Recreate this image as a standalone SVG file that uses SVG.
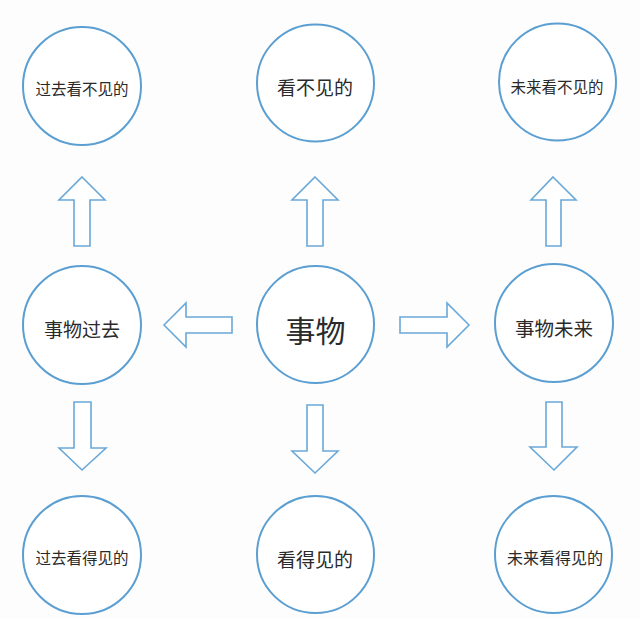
<svg xmlns="http://www.w3.org/2000/svg" width="640" height="619" viewBox="0 0 640 619">
<style>
.c{fill:#ffffff;stroke:#5b9fd2;stroke-width:2}
.a{fill:#ffffff;stroke:#6aa8d8;stroke-width:1.6;stroke-linejoin:miter}
.t{font-family:"Noto Sans CJK SC","Noto Sans",sans-serif;fill:#2a2a2a;text-anchor:middle;dominant-baseline:central}
</style>
<rect width="640" height="619" fill="#fdfdfd"/>
<g id="connectors">
<polygon class="a" points="82,177 105,200 90,200 90,246 74,246 74,200 59,200"/>
<polygon class="a" points="315,177 338,200 323,200 323,246 307,246 307,200 292,200"/>
<polygon class="a" points="553,177 576,200 561,200 561,246 546,246 546,200 531,200"/>
<polygon class="a" points="164,325 186,303 186,317 232,317 232,333 186,333 186,347"/>
<polygon class="a" points="469,325 447,303 447,317 400,317 400,333 447,333 447,347"/>
<polygon class="a" points="82,470 106,448 91,448 91,402 74,402 74,448 59,448"/>
<polygon class="a" points="315,473 338,451 323,451 323,405 307,405 307,451 292,451"/>
<polygon class="a" points="554,470 577,447 562,447 562,402 546,402 546,447 530,447"/>
</g>
<g id="past_invisible"><circle class="c" cx="82" cy="86" r="59"/><text class="t" x="82" y="88" font-size="15.5">过去看不见的</text></g>
<g id="invisible"><circle class="c" cx="315.5" cy="83" r="58.5"/><text class="t" x="315" y="86" font-size="19">看不见的</text></g>
<g id="future_invisible"><circle class="c" cx="557.5" cy="82" r="58.5"/><text class="t" x="557" y="86" font-size="15.5">未来看不见的</text></g>
<g id="thing_past"><circle class="c" cx="82" cy="325" r="59"/><text class="t" x="82" y="328" font-size="19">事物过去</text></g>
<g id="thing"><circle class="c" cx="315.5" cy="324.5" r="58.5"/><text class="t" x="315.5" y="329" font-size="30">事物</text></g>
<g id="thing_future"><circle class="c" cx="554" cy="323" r="59"/><text class="t" x="554" y="327" font-size="19.5">事物未来</text></g>
<g id="past_visible"><circle class="c" cx="82" cy="555" r="59"/><text class="t" x="82" y="557" font-size="15.5">过去看得见的</text></g>
<g id="visible"><circle class="c" cx="315.5" cy="554.5" r="58.5"/><text class="t" x="315" y="558" font-size="19">看得见的</text></g>
<g id="future_visible"><circle class="c" cx="553.5" cy="554.5" r="58.5"/><text class="t" x="555" y="557" font-size="16">未来看得见的</text></g>
</svg>
